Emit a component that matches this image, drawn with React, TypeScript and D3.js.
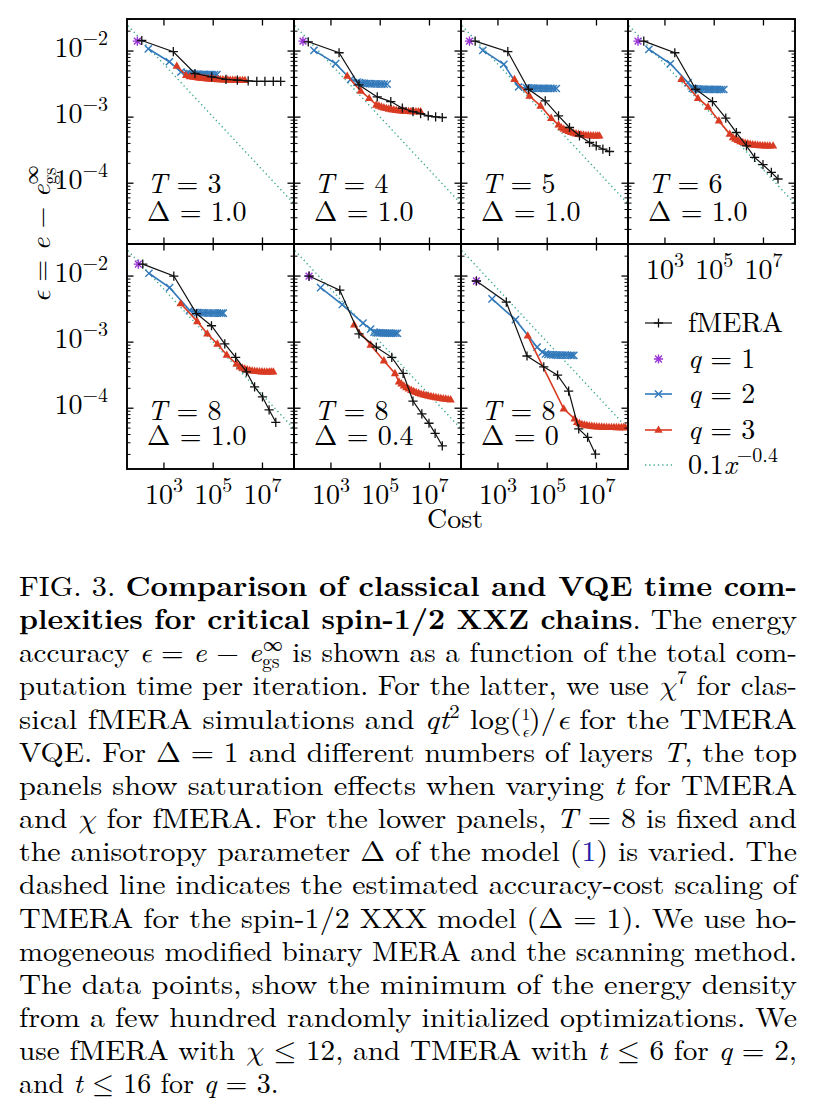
import React from "react";
import * as d3 from "d3";

// Each point: [log10(cost), log10(epsilon)]
type P = [number, number];

const COST_TICKS = [1e3, 1e5, 1e7];
const COST_TICK_EXP = ["3", "5", "7"];
const EPS_MAJOR = [1e-2, 1e-3, 1e-4];
const EPS_MAJOR_EXP = ["\u22122", "\u22123", "\u22124"];
const COST_DOMAIN: [number, number] = [Math.pow(10, 1.5), Math.pow(10, 8.28)];
const EPS_DOMAIN: [number, number] = [Math.pow(10, -4.92), Math.pow(10, -1.515)];

const PANEL_T = ["3", "4", "5", "6", "8", "8", "8"];
const PANEL_DELTA = ["1.0", "1.0", "1.0", "1.0", "1.0", "0.4", "0"];

// guide line 0.1 x^-0.4 evaluated at two cost values
const GUIDE_COST = [20, 3e8];
const GUIDE_PREF = 0.1;
const GUIDE_EXP = -0.4;

const FMERA: P[][] = [
  [[2.10, -1.84], [3.38, -2.01], [4.26, -2.34], [4.94, -2.39], [5.52, -2.43], [5.98, -2.44], [6.42, -2.45], [6.77, -2.46], [7.10, -2.46], [7.44, -2.46], [7.74, -2.46]],
  [[2.08, -1.86], [3.33, -2.026], [4.14, -2.513], [4.88, -2.694], [5.43, -2.765], [5.90, -2.865], [6.33, -2.916], [6.64, -2.946], [6.95, -2.98], [7.25, -2.996], [7.52, -3.006]],
  [[2.075, -1.85], [3.40, -2.01], [4.24, -2.578], [4.92, -2.755], [5.46, -2.98], [5.905, -3.157], [6.31, -3.283], [6.72, -3.384], [6.99, -3.434], [7.26, -3.483], [7.53, -3.52]],
  [[2.14, -1.85], [3.40, -2.026], [4.25, -2.578], [4.93, -2.765], [5.47, -3.016], [5.90, -3.233], [6.31, -3.434], [6.64, -3.61], [6.98, -3.72], [7.32, -3.836], [7.59, -3.936]],
  [[2.14, -1.82], [3.40, -2.0], [4.32, -2.569], [4.93, -2.752], [5.47, -3.027], [5.91, -3.23], [6.35, -3.45], [6.68, -3.678], [7.0, -3.83], [7.27, -4.024], [7.54, -4.213]],
  [[2.11, -2.0], [3.36, -2.213], [4.14, -2.874], [4.84, -3.077], [5.47, -3.23], [5.93, -3.474], [6.33, -3.892], [6.69, -4.085], [6.98, -4.228], [7.23, -4.38], [7.52, -4.569]],
  [[2.125, -2.075], [3.34, -2.396], [4.18, -3.21], [4.86, -3.373], [5.42, -3.5], [5.87, -3.74], [6.28, -4.314], [6.64, -4.44], [6.96, -4.696]],
];

const Q1: P[] = [[1.92, -1.85], [1.865, -1.85], [1.845, -1.85], [1.906, -1.85], [1.96, -1.82], [2.11, -2.0], [2.125, -2.075]];

const Q2: P[][] = [
  [[2.365, -1.966], [3.22, -2.162], [3.69, -2.317], [3.95, -2.33], [4.05, -2.34], [4.15, -2.345], [4.25, -2.348], [4.35, -2.35], [4.45, -2.352], [4.55, -2.353], [4.65, -2.354], [4.75, -2.355], [4.85, -2.356], [4.95, -2.356], [5.05, -2.357], [5.15, -2.357]],
  [[2.31, -1.99], [3.19, -2.19], [3.80, -2.428], [4.06, -2.47], [4.16, -2.478], [4.26, -2.484], [4.36, -2.488], [4.46, -2.491], [4.56, -2.494], [4.66, -2.496], [4.76, -2.497], [4.86, -2.498], [4.96, -2.499], [5.06, -2.5], [5.16, -2.5], [5.28, -2.5]],
  [[2.385, -1.99], [3.24, -2.2], [3.835, -2.544], [4.15, -2.555], [4.25, -2.558], [4.35, -2.56], [4.45, -2.562], [4.55, -2.563], [4.65, -2.564], [4.75, -2.565], [4.85, -2.565], [4.95, -2.566], [5.05, -2.566], [5.15, -2.566], [5.25, -2.567], [5.37, -2.567]],
  [[2.35, -1.975], [3.22, -2.192], [3.94, -2.48], [4.11, -2.565], [4.21, -2.57], [4.31, -2.573], [4.41, -2.575], [4.51, -2.577], [4.61, -2.578], [4.71, -2.579], [4.81, -2.58], [4.91, -2.58], [5.01, -2.581], [5.11, -2.581], [5.21, -2.582], [5.3, -2.582], [5.39, -2.582]],
  [[2.39, -1.958], [3.23, -2.176], [4.04, -2.518], [4.26, -2.55], [4.36, -2.553], [4.46, -2.555], [4.56, -2.557], [4.66, -2.558], [4.76, -2.559], [4.86, -2.56], [4.96, -2.56], [5.06, -2.561], [5.16, -2.561], [5.26, -2.562], [5.34, -2.562], [5.41, -2.562]],
  [[2.58, -2.176], [3.46, -2.431], [4.30, -2.711], [4.61, -2.802], [4.75, -2.85], [4.83, -2.855], [4.91, -2.858], [4.99, -2.86], [5.07, -2.862], [5.15, -2.863], [5.23, -2.864], [5.31, -2.865], [5.39, -2.865], [5.47, -2.866], [5.55, -2.866], [5.63, -2.866], [5.70, -2.866]],
  [[2.76, -2.345], [3.71, -2.66], [4.59, -3.077], [4.80, -3.15], [4.93, -3.18], [5.03, -3.187], [5.13, -3.19], [5.23, -3.193], [5.33, -3.195], [5.43, -3.196], [5.53, -3.197], [5.63, -3.198], [5.73, -3.198], [5.83, -3.199], [5.93, -3.199], [6.0, -3.2], [6.08, -3.2]],
];

const Q3: P[][] = [
  [[3.52, -2.227], [3.90, -2.367], [4.05, -2.385], [4.19, -2.393], [4.29, -2.398], [4.39, -2.403], [4.49, -2.407], [4.59, -2.411], [4.69, -2.415], [4.79, -2.418], [4.89, -2.421], [4.99, -2.424], [5.09, -2.427], [5.19, -2.429], [5.29, -2.431], [5.39, -2.433], [5.49, -2.435], [5.59, -2.436], [5.69, -2.438], [5.79, -2.439], [5.89, -2.44], [5.99, -2.441], [6.09, -2.442], [6.19, -2.442], [6.29, -2.443]],
  [[3.66, -2.378], [4.21, -2.604], [4.55, -2.714], [4.84, -2.815], [4.95, -2.83], [5.05, -2.845], [5.15, -2.857], [5.25, -2.867], [5.35, -2.876], [5.45, -2.884], [5.55, -2.89], [5.65, -2.896], [5.75, -2.9], [5.85, -2.904], [5.95, -2.907], [6.05, -2.91], [6.15, -2.912], [6.25, -2.914], [6.35, -2.915], [6.45, -2.916], [6.55, -2.916], [6.64, -2.916]],
  [[3.67, -2.428], [4.28, -2.68], [4.73, -2.83], [5.16, -3.016], [5.46, -3.117], [5.57, -3.157], [5.67, -3.18], [5.77, -3.2], [5.87, -3.215], [5.97, -3.228], [6.07, -3.24], [6.17, -3.25], [6.27, -3.258], [6.37, -3.264], [6.47, -3.27], [6.57, -3.274], [6.67, -3.277], [6.77, -3.28], [6.87, -3.281], [6.97, -3.282], [7.05, -3.283], [7.12, -3.283]],
  [[3.67, -2.428], [4.34, -2.714], [4.75, -2.845], [5.19, -3.056], [5.63, -3.257], [5.76, -3.308], [5.86, -3.33], [5.96, -3.35], [6.06, -3.367], [6.16, -3.38], [6.26, -3.392], [6.36, -3.402], [6.46, -3.41], [6.56, -3.416], [6.66, -3.421], [6.76, -3.425], [6.86, -3.428], [6.96, -3.43], [7.06, -3.432], [7.16, -3.433], [7.26, -3.434], [7.39, -3.434]],
  [[3.68, -2.416], [4.35, -2.686], [4.76, -2.874], [5.17, -3.027], [5.55, -3.195], [5.95, -3.332], [6.08, -3.373], [6.18, -3.39], [6.28, -3.404], [6.38, -3.416], [6.48, -3.426], [6.58, -3.433], [6.68, -3.438], [6.78, -3.442], [6.88, -3.445], [6.98, -3.447], [7.08, -3.448], [7.18, -3.449], [7.28, -3.45], [7.36, -3.45], [7.44, -3.45]],
  [[3.94, -2.737], [4.61, -3.042], [5.15, -3.281], [5.60, -3.474], [5.76, -3.60], [5.86, -3.63], [5.96, -3.66], [6.06, -3.685], [6.16, -3.707], [6.26, -3.727], [6.36, -3.745], [6.46, -3.76], [6.56, -3.773], [6.66, -3.785], [6.76, -3.795], [6.86, -3.805], [6.96, -3.814], [7.06, -3.822], [7.16, -3.83], [7.26, -3.837], [7.36, -3.843], [7.46, -3.849], [7.56, -3.855], [7.66, -3.86], [7.76, -3.865], [7.86, -3.87]],
  [[4.21, -2.905], [5.67, -4.009], [6.11, -4.161], [6.21, -4.213], [6.31, -4.23], [6.41, -4.243], [6.51, -4.253], [6.61, -4.261], [6.71, -4.267], [6.81, -4.272], [6.91, -4.276], [7.01, -4.279], [7.11, -4.282], [7.21, -4.284], [7.31, -4.286], [7.41, -4.287], [7.51, -4.288], [7.61, -4.289], [7.71, -4.289], [7.81, -4.29], [7.91, -4.29], [8.01, -4.29], [8.1, -4.29], [8.17, -4.29]],
];

const LEGEND_LABELS = ["fMERA", "q = 1", "q = 2", "q = 3", "0.1x"];

const C_BLACK = "#111111";
const C_PURPLE = "#9a35d6";
const C_BLUE = "#3279ba";
const C_RED = "#d93a22";
const C_TEAL = "#3aa890";

const FONT = "'Latin Modern Roman', 'Latin Modern Math', 'Liberation Serif', serif";

const COL_X = [127, 294, 461, 628];
const ROW_Y = [19, 244];
const PW = 167;
const PH = 225;

const xScale = d3.scaleLog().domain(COST_DOMAIN).range([0, PW]);
const yScale = d3.scaleLog().domain(EPS_DOMAIN).range([PH, 0]);

const px = (p: P) => xScale(Math.pow(10, p[0]));
const py = (p: P) => yScale(Math.pow(10, p[1]));

const lineGen = d3.line<P>().x(px).y(py);

const plusPath = (x: number, y: number, r = 4.6) => `M${x - r},${y}h${2 * r}M${x},${y - r}v${2 * r}`;
const crossPath = (x: number, y: number, r = 3.6) => `M${x - r},${y - r}l${2 * r},${2 * r}M${x - r},${y + r}l${2 * r},${-2 * r}`;
const triPath = (x: number, y: number, r = 4.6) => `M${x},${y - r}L${x + r * 0.9},${y + r * 0.6}L${x - r * 0.9},${y + r * 0.6}Z`;
const starPath = (x: number, y: number) => plusPath(x, y, 4.6) + crossPath(x, y, 3.4);

const minorEps: number[] = [];
for (let n = -5; n <= -1; n++) {
  for (let k = 2; k <= 9; k++) {
    const v = k * Math.pow(10, n);
    if (v > EPS_DOMAIN[0] && v < EPS_DOMAIN[1]) minorEps.push(v);
  }
}

function Panel({ i }: { i: number }) {
  const col = i < 4 ? i : i - 4;
  const row = i < 4 ? 0 : 1;
  const x0 = COL_X[col];
  const y0 = ROW_Y[row];
  const clipId = `clip${i}`;
  const showY = col === 0;
  const showX = row === 1 || i === 3;
  const guide: P[] = GUIDE_COST.map((c) => [Math.log10(c), Math.log10(GUIDE_PREF * Math.pow(c, GUIDE_EXP))]);
  const MAJ = 6.5;
  const MIN = 3.5;
  return (
    <g transform={`translate(${x0},${y0})`}>
      <defs>
        <clipPath id={clipId}>
          <rect x={0} y={0} width={PW} height={PH} />
        </clipPath>
      </defs>
      <g clipPath={`url(#${clipId})`}>
        <path d={lineGen(guide) || ""} fill="none" stroke={C_TEAL} strokeWidth={1.4} strokeDasharray="1.3 3" />
        <path d={lineGen(Q2[i]) || ""} fill="none" stroke={C_BLUE} strokeWidth={1.6} />
        {Q2[i].map((p, j) => (
          <path key={j} d={crossPath(px(p), py(p))} stroke={C_BLUE} strokeWidth={1.4} fill="none" />
        ))}
        <path d={lineGen(Q3[i]) || ""} fill="none" stroke={C_RED} strokeWidth={1.6} />
        {Q3[i].map((p, j) => (
          <path key={j} d={triPath(px(p), py(p))} fill={C_RED} stroke="none" />
        ))}
        <path d={starPath(px(Q1[i]), py(Q1[i]))} stroke={C_PURPLE} strokeWidth={1.4} fill="none" />
        <path d={lineGen(FMERA[i]) || ""} fill="none" stroke={C_BLACK} strokeWidth={1.2} />
        {FMERA[i].map((p, j) => (
          <path key={j} d={plusPath(px(p), py(p))} stroke={C_BLACK} strokeWidth={1.3} fill="none" />
        ))}
      </g>
      {EPS_MAJOR.map((v) => (
        <g key={v}>
          <line x1={0} x2={MAJ} y1={yScale(v)} y2={yScale(v)} stroke="#000" strokeWidth={1.3} />
          <line x1={PW} x2={PW - MAJ} y1={yScale(v)} y2={yScale(v)} stroke="#000" strokeWidth={1.3} />
        </g>
      ))}
      {minorEps.map((v) => (
        <g key={v}>
          <line x1={0} x2={MIN} y1={yScale(v)} y2={yScale(v)} stroke="#000" strokeWidth={1} />
          <line x1={PW} x2={PW - MIN} y1={yScale(v)} y2={yScale(v)} stroke="#000" strokeWidth={1} />
        </g>
      ))}
      {COST_TICKS.map((v) => (
        <g key={v}>
          <line x1={xScale(v)} x2={xScale(v)} y1={PH} y2={PH - MAJ} stroke="#000" strokeWidth={1.3} />
          <line x1={xScale(v)} x2={xScale(v)} y1={0} y2={MAJ} stroke="#000" strokeWidth={1.3} />
        </g>
      ))}
      <rect x={0} y={0} width={PW} height={PH} fill="none" stroke="#000" strokeWidth={1.9} />
      {showY &&
        EPS_MAJOR.map((v, j) => (
          <text key={v} x={-19} y={yScale(v) + 6} textAnchor="end" fontSize={28} fontFamily={FONT}>
            10<tspan fontSize={20} dy={-12}>{EPS_MAJOR_EXP[j]}</tspan>
          </text>
        ))}
      {showX &&
        COST_TICKS.map((v, j) => (
          <text key={v} x={xScale(v)} y={PH + 35} textAnchor="middle" fontSize={28} fontFamily={FONT}>
            10<tspan fontSize={20} dy={-12}>{COST_TICK_EXP[j]}</tspan>
          </text>
        ))}
      <text x={20} y={row === 0 ? 174 : 176} fontSize={28} fontFamily={FONT}>
        <tspan fontStyle="italic">T</tspan>{" = "}{PANEL_T[i]}
      </text>
      <text x={20} y={row === 0 ? 202 : 201} fontSize={28} fontFamily={FONT}>
        {"\u0394 = "}{PANEL_DELTA[i]}
      </text>
    </g>
  );
}

function Legend() {
  const lx0 = 645;
  const lx1 = 672;
  const cx = (lx0 + lx1) / 2;
  const ys = [323, 359, 394, 430, 465];
  const tx = 688;
  return (
    <g fontFamily={FONT} fontSize={28}>
      <line x1={lx0} x2={lx1} y1={ys[0]} y2={ys[0]} stroke={C_BLACK} strokeWidth={1.2} />
      <path d={plusPath(cx, ys[0])} stroke={C_BLACK} strokeWidth={1.3} />
      <text x={tx} y={ys[0] + 9}>{LEGEND_LABELS[0]}</text>

      <path d={starPath(cx, ys[1])} stroke={C_PURPLE} strokeWidth={1.4} />
      <text x={tx} y={ys[1] + 9}>
        <tspan fontStyle="italic">q</tspan>{LEGEND_LABELS[1].slice(1)}
      </text>

      <line x1={lx0} x2={lx1} y1={ys[2]} y2={ys[2]} stroke={C_BLUE} strokeWidth={1.6} />
      <path d={crossPath(cx, ys[2])} stroke={C_BLUE} strokeWidth={1.4} />
      <text x={tx} y={ys[2] + 9}>
        <tspan fontStyle="italic">q</tspan>{LEGEND_LABELS[2].slice(1)}
      </text>

      <line x1={lx0} x2={lx1} y1={ys[3]} y2={ys[3]} stroke={C_RED} strokeWidth={1.6} />
      <path d={triPath(cx, ys[3])} fill={C_RED} />
      <text x={tx} y={ys[3] + 9}>
        <tspan fontStyle="italic">q</tspan>{LEGEND_LABELS[3].slice(1)}
      </text>

      <line x1={lx0} x2={lx1} y1={ys[4]} y2={ys[4]} stroke={C_TEAL} strokeWidth={1.4} strokeDasharray="1.3 3" />
      <text x={tx} y={ys[4] + 9}>
        0.1<tspan fontStyle="italic">x</tspan>
        <tspan fontSize={20} dy={-12}>{"\u22120.4"}</tspan>
      </text>
    </g>
  );
}

const CAP_X = 19;
const CAP_W = 778;
const CAP_Y0 = 596;
const CAP_DY = 33.15;
const CAP_FS = 28;

function CapLine({ n, children, full = true }: { n: number; children: React.ReactNode; full?: boolean }) {
  const extra = full ? { textLength: CAP_W, lengthAdjust: "spacingAndGlyphs" } : {};
  return (
    <text x={CAP_X} y={CAP_Y0 + n * CAP_DY} fontSize={CAP_FS} fontFamily={FONT} {...(extra as any)}>
      {children}
    </text>
  );
}

const I = ({ children }: { children: React.ReactNode }) => <tspan fontStyle="italic">{children}</tspan>;
const B = ({ children }: { children: React.ReactNode }) => <tspan fontWeight="bold">{children}</tspan>;

function Caption() {
  return (
    <g>
      <CapLine n={0}>
        {"FIG. 3.  "}<B>Comparison of classical and VQE time com-</B>
      </CapLine>
      <CapLine n={1}>
        <B>plexities for critical spin-1/2 XXZ chains</B>{". The energy"}
      </CapLine>
      <CapLine n={2}>
        {"accuracy "}<I>{"\u03f5"}</I>{" = "}<I>e</I>{" \u2212 "}<I>e</I>
        <tspan fontSize={19} dy={6}>gs</tspan>
        <tspan fontSize={19} dx={-16} dy={-17}>{"\u221e"}</tspan>
        <tspan dy={11}>{" is shown as a function of the total com-"}</tspan>
      </CapLine>
      <CapLine n={3}>
        {"putation time per iteration. For the latter, we use "}<I>{"\u03c7"}</I>
        <tspan fontSize={19} dy={-11}>7</tspan>
        <tspan dy={11}>{" for clas-"}</tspan>
      </CapLine>
      <CapLine n={4}>
        {"sical fMERA simulations and "}<I>qt</I>
        <tspan fontSize={19} dy={-11}>2</tspan>
        <tspan dy={11}>{" log("}</tspan>
        <tspan fontSize={16} dy={-9}>1</tspan>
        <tspan fontSize={16} fontStyle="italic" dx={-8} dy={17}>{"\u03f5"}</tspan>
        <tspan dy={-8}>{")/"}</tspan>
        <I>{"\u03f5"}</I>
        {" for the TMERA"}
      </CapLine>
      <CapLine n={5}>
        {"VQE. For \u0394 = 1 and different numbers of layers "}<I>T</I>{", the top"}
      </CapLine>
      <CapLine n={6}>
        {"panels show saturation effects when varying "}<I>t</I>{" for TMERA"}
      </CapLine>
      <CapLine n={7}>
        {"and "}<I>{"\u03c7"}</I>{" for fMERA. For the lower panels, "}<I>T</I>{" = 8 is fixed and"}
      </CapLine>
      <CapLine n={8}>
        {"the anisotropy parameter \u0394 of the model ("}<tspan fill="#1f1fa8">1</tspan>{") is varied.  The"}
      </CapLine>
      <CapLine n={9}>{"dashed line indicates the estimated accuracy-cost scaling of"}</CapLine>
      <CapLine n={10}>{"TMERA for the spin-1/2 XXX model (\u0394 = 1).  We use ho-"}</CapLine>
      <CapLine n={11}>{"mogeneous modified binary MERA and the scanning method."}</CapLine>
      <CapLine n={12}>{"The data points, show the minimum of the energy density"}</CapLine>
      <CapLine n={13}>{"from a few hundred randomly initialized optimizations.  We"}</CapLine>
      <CapLine n={14}>
        {"use fMERA with "}<I>{"\u03c7"}</I>{" \u2264 12, and TMERA with "}<I>t</I>{" \u2264 6 for "}<I>q</I>{" = 2,"}
      </CapLine>
      <CapLine n={15} full={false}>
        {"and "}<I>t</I>{" \u2264 16 for "}<I>q</I>{" = 3."}
      </CapLine>
    </g>
  );
}

export default function App() {
  return (
    <svg
      width={814}
      height={1116}
      style={{ position: "absolute", left: 0, top: 0, background: "#fff" }}
      fontFamily={FONT}
    >
      <rect x={0} y={0} width={814} height={1116} fill="#fff" />
      {[0, 1, 2, 3, 4, 5, 6].map((i) => (
        <Panel key={i} i={i} />
      ))}
      <Legend />
      <text transform="translate(50,234) rotate(-90)" textAnchor="middle" fontSize={28} fontFamily={FONT}>
        <tspan fontStyle="italic">{"\u03f5"}</tspan>
        {" = "}
        <tspan fontStyle="italic">e</tspan>
        {" \u2212 "}
        <tspan fontStyle="italic">e</tspan>
        <tspan fontSize={19} dy={6}>gs</tspan>
        <tspan fontSize={19} dx={-17} dy={-18}>{"\u221e"}</tspan>
      </text>
      <text x={455} y={528} textAnchor="middle" fontSize={28} fontFamily={FONT}>
        Cost
      </text>
      <Caption />
    </svg>
  );
}
